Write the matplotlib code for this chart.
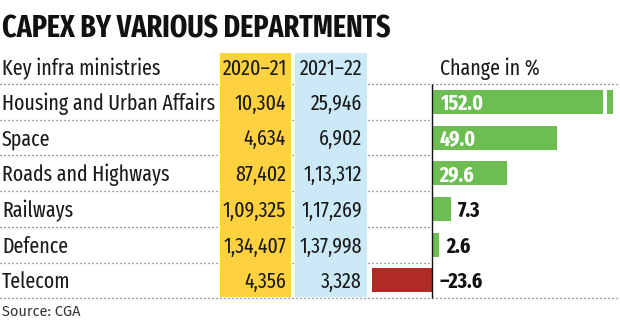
import matplotlib
matplotlib.use("Agg")
import matplotlib.pyplot as plt
from matplotlib.patches import Rectangle

# ---------------- data ----------------
title = "CAPEX BY VARIOUS DEPARTMENTS"
header_label = "Key infra ministries"
year_labels = ["2020–21", "2021–22"]
change_header = "Change in %"
ministries = ["Housing and Urban Affairs", "Space", "Roads and Highways",
              "Railways", "Defence", "Telecom"]
capex_2020_21 = ["10,304", "4,634", "87,402", "1,09,325", "1,34,407", "4,356"]
capex_2021_22 = ["25,946", "6,902", "1,13,312", "1,17,269", "1,37,998", "3,328"]
change_pct = [152.0, 49.0, 29.6, 7.3, 2.6, -23.6]
source = "Source: CGA"

# ---------------- style ----------------
XCOND = ["Fira Sans Extra Condensed", "Fira Sans Condensed", "DejaVu Sans"]
SRC_FONT = ["Fira Sans", "DejaVu Sans"]
YELLOW = "#FDD13F"
BLUE = "#CCE9F8"
GREEN = "#6CBD52"
RED = "#B02A26"
TXT = "#1a1a1a"
DOT = "#666666"
CAP = 67.0          # display cap for out-of-scale bar (broken bar)

W, H = 620, 324
fig = plt.figure(figsize=(W / 100, H / 100), dpi=100)

n = len(ministries)
row_px = 35.7
top_px = 84.0
y_top = -0.5 - top_px / row_px
y_bot = (n - 0.5) + (H - top_px - n * row_px) / row_px

# table axes (full figure, x in layout px, y in row units)
ax = fig.add_axes([0, 0, 1, 1])
ax.set_xlim(0, W)
ax.set_ylim(y_bot, y_top)
ax.axis("off")

# bar axes
bx_left_px, bx_right_px, zero_px, scale = 365, 620, 432, 2.55
axb = fig.add_axes([bx_left_px / W, 0, (bx_right_px - bx_left_px) / W, 1])
axb.set_xlim(-(zero_px - bx_left_px) / scale, (bx_right_px - zero_px) / scale)
axb.set_ylim(y_bot, y_top)
axb.axis("off")
axb.patch.set_alpha(0)

# font size fitted so the longest label matches the reference width
probe = ax.text(0, 0, ministries[0], fontsize=17, family=XCOND)
fig.canvas.draw()
FS = 17 * 213 / probe.get_window_extent().width
probe.remove()

# dotted separators
ax.hlines([-0.5, n - 0.5], 0, W, colors=DOT, linestyles=(0, (1, 2.2)), lw=0.9, zorder=1)
ax.hlines([i + 0.5 for i in range(n - 1)], 0, zero_px, colors=DOT,
          linestyles=(0, (1, 2.2)), lw=0.9, zorder=1)

# column backgrounds
col_top = -0.5 - (top_px - 53) / row_px
col_bot = n - 0.5 - 1.5 / row_px
ax.add_patch(Rectangle((220, col_top), 71, col_bot - col_top, fc=YELLOW, ec="none", zorder=2))
ax.add_patch(Rectangle((295, col_top), 72, col_bot - col_top, fc=BLUE, ec="none", zorder=2))

# title (fit to reference width)
t = ax.text(2, y_top + 37 / row_px, title, fontsize=26, fontweight="bold",
            family=XCOND, color="#111111", va="baseline", ha="left")
fig.canvas.draw()
t.set_fontsize(26 * 388 / t.get_window_extent().width)

hb = -0.5 - 9 / row_px
ax.text(2, hb, header_label, fontsize=FS, family=XCOND, color=TXT, va="baseline")
ax.text(255.5, hb, year_labels[0], fontsize=FS, family=XCOND, color=TXT, va="baseline",
        ha="center", zorder=3)
ax.text(331, hb, year_labels[1], fontsize=FS, family=XCOND, color=TXT, va="baseline",
        ha="center", zorder=3)
ax.text(440, hb, change_header, fontsize=FS, family=XCOND, color=TXT, va="baseline")

# rows
for i in range(n):
    yb = i + 0.22
    ax.text(2, yb, ministries[i], fontsize=FS, family=XCOND, color=TXT, va="baseline")
    ax.text(286, yb, capex_2020_21[i], fontsize=FS, family=XCOND, color=TXT,
            va="baseline", ha="right", zorder=3)
    ax.text(362, yb, capex_2021_22[i], fontsize=FS, family=XCOND, color=TXT,
            va="baseline", ha="right", zorder=3)

# bars
ys = list(range(n))
disp = [min(v, CAP) for v in change_pct]
colors = [GREEN if v >= 0 else RED for v in change_pct]
axb.barh(ys, disp, height=0.67, color=colors, zorder=2)
for i, v in enumerate(change_pct):
    if v > CAP:
        axb.barh(i, 2.4, left=CAP + 1.6, height=0.67, color=GREEN, zorder=2)
axb.vlines(0, -0.5, n - 0.5, colors="#111111", lw=1.0, zorder=3)

for i, v in enumerate(change_pct):
    lab = f"{v:.1f}".replace("-", "–")
    yb = i + 0.22
    if v > 20:
        x, c = 3, "white"
    elif v >= 0:
        x, c = v + 3, "#111111"
    else:
        x, c = 3, "#111111"
    axb.text(x, yb, lab, color=c, fontsize=FS, fontweight="bold",
             family=XCOND, va="baseline", ha="left", zorder=4)

# source
ax.text(2, y_bot - 8 / row_px, source, fontsize=10.5, family=SRC_FONT, color="#333333",
        va="baseline")

fig.savefig("out.png", dpi=100)
